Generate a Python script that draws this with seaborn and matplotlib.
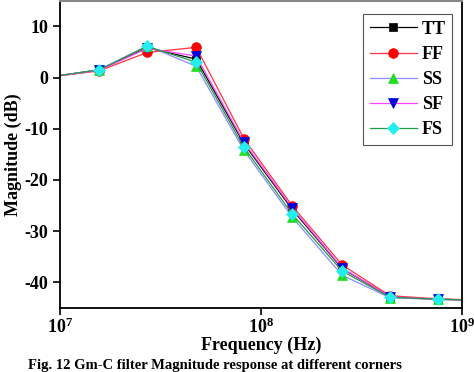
import pandas as pd
import seaborn as sns
from matplotlib import pyplot as plt

# frequency points (Hz); first and last lie just outside the axis range
freq = [9.0e6, 1.56e7, 2.71e7, 4.75e7, 8.2e7, 1.43e8, 2.53e8, 4.38e8, 7.6e8, 1.32e9]

tt = [0.15, 1.5, 5.8, 3.6, -12.9, -25.8, -37.3, -42.8, -43.3, -43.5]
ff = [0.15, 1.3, 4.9, 5.9, -11.9, -25.1, -36.6, -42.6, -43.2, -43.5]
ss = [0.15, 1.5, 6.2, 2.2, -14.2, -27.3, -38.6, -43.0, -43.3, -43.5]
sf = [0.15, 1.4, 5.7, 4.2, -12.6, -25.5, -37.2, -42.8, -43.3, -43.5]
fs = [0.15, 1.5, 6.1, 3.0, -13.6, -26.7, -37.8, -42.9, -43.3, -43.5]

names = ['TT', 'FF', 'SS', 'SF', 'FS']
values = [tt, ff, ss, sf, fs]
line_colors = ['black', '#ff3344', '#8c8cff', '#ff44ff', '#229944']
marker_colors = ['black', 'red', '#22dd22', '#0000dd', '#22eeee']
markers = ['s', 'o', '^', 'v', 'D']
msizes = [6, 7, 7, 7, 6]

plt.rcParams['font.family'] = ['Liberation Serif', 'DejaVu Serif']
plt.rcParams['font.weight'] = 'bold'
plt.rcParams['axes.unicode_minus'] = False

fig = plt.figure(figsize=(4.74, 3.72), dpi=100)
ax = fig.add_axes([0.127, 0.172, 0.848, 0.826])

for name, vals, lc, mc, mk, ms in zip(names, values, line_colors, marker_colors, markers, msizes):
    df = pd.DataFrame({'freq': freq, 'mag': vals})
    sns.lineplot(data=df, x='freq', y='mag', ax=ax, color=lc, linewidth=0.9,
                 marker=mk, markersize=ms, markerfacecolor=mc, markeredgecolor=mc,
                 markeredgewidth=0.5, label=name)

ax.set_xscale('log')
ax.set_xlim(1e7, 1e9)
ax.set_ylim(-45, 15)
ax.set_yticks([-40, -30, -20, -10, 0, 10])
ax.minorticks_off()
ax.tick_params(axis='both', direction='out', length=5, width=1.2, labelsize=13)
ax.tick_params(axis='x', pad=2)
for lab in ax.get_xticklabels() + ax.get_yticklabels():
    lab.set_fontweight('bold')
for side in ['left', 'bottom', 'right']:
    ax.spines[side].set_linewidth(1.3)
    ax.spines[side].set_color('black')
ax.spines['top'].set_color('#888888')
ax.spines['top'].set_linewidth(1.5)

ax.set_xlabel('Frequency (Hz)', fontsize=13, fontweight='bold', labelpad=0)
ax.set_ylabel('Magnitude (dB)', fontsize=13, fontweight='bold', labelpad=2)

leg = ax.legend(loc='upper right', bbox_to_anchor=(0.998, 0.985), frameon=True,
                fancybox=False, edgecolor='#555555', framealpha=1,
                prop={'family': 'Liberation Serif', 'weight': 'bold', 'size': 13},
                handlelength=2.6, handletextpad=0.3, labelspacing=0.45,
                borderpad=0.35)
leg.get_frame().set_linewidth(0.8)

fig.text(0.06, 0.0, 'Fig. 12 Gm-C filter Magnitude response at different corners',
         fontsize=10.5, fontweight='bold', va='bottom', ha='left')

fig.savefig('out.png', dpi=100)
plt.close()
